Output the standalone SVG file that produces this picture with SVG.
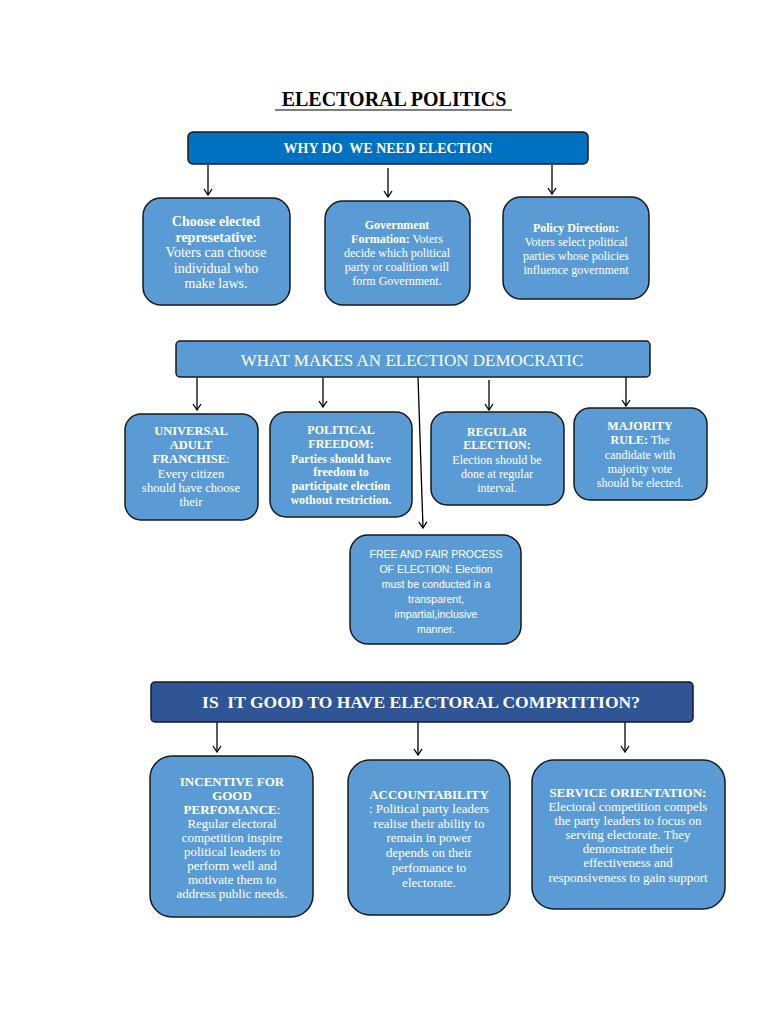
<svg xmlns="http://www.w3.org/2000/svg" width="768" height="1024" viewBox="0 0 768 1024">
<defs>
<marker id="arr" markerWidth="10" markerHeight="10" refX="9" refY="5" orient="auto" markerUnits="userSpaceOnUse" viewBox="0 0 10 10">
<polyline points="3,1 9,5 3,9" fill="none" stroke="#000" stroke-width="1.3"/>
</marker>
<style>
.box{fill:#5b9bd5;stroke:#1a1a1a;stroke-width:1.5}
.t{font-family:"Liberation Serif","Times New Roman",serif;fill:#fff;text-anchor:middle;white-space:pre}
.s{font-family:"Liberation Sans",Arial,sans-serif;fill:#fff;text-anchor:middle}
.b{font-weight:bold}
.c line{stroke:#000;stroke-width:1.3;marker-end:url(#arr)}
</style>
</defs>
<rect width="768" height="1024" fill="#fff"/>
<g id="title">
<text x="394" y="106" font-family="Liberation Serif,serif" font-weight="bold" font-size="20" text-anchor="middle" fill="#000">ELECTORAL POLITICS</text>
<line x1="275" y1="110" x2="512" y2="110" stroke="#000" stroke-width="1.2"/>
</g>
<g class="c" id="connectors">
<line x1="208" y1="165" x2="208" y2="195"/>
<line x1="388" y1="168" x2="388" y2="197"/>
<line x1="552" y1="165" x2="552" y2="194"/>
<line x1="197" y1="378" x2="197" y2="410"/>
<line x1="323" y1="378" x2="323" y2="407"/>
<line x1="489" y1="380" x2="489" y2="410"/>
<line x1="626" y1="377" x2="626" y2="406"/>
<line x1="418" y1="377" x2="423" y2="528"/>
<line x1="217" y1="722" x2="217" y2="752"/>
<line x1="418" y1="722" x2="418" y2="755"/>
<line x1="625" y1="722" x2="625" y2="752"/>
</g>
<g id="h1">
<rect x="188" y="132" width="400" height="32" rx="5" fill="#0070c0" stroke="#1a1a1a" stroke-width="1.5"/>
<text class="t b" x="388" y="153" font-size="14" xml:space="preserve">WHY DO  WE NEED ELECTION</text>
</g>
<g id="n1">
<rect class="box" x="143" y="198" width="147" height="107" rx="18"/>
<text class="t" font-size="14"><tspan class="b" x="216" y="226">Choose elected</tspan><tspan class="b" x="216" y="242">represetative<tspan font-weight="normal">:</tspan></tspan><tspan x="216" y="257">Voters can choose</tspan><tspan x="216" y="273">individual who</tspan><tspan x="216" y="288">make laws.</tspan></text>
</g>
<g id="n2">
<rect class="box" x="325" y="201" width="145" height="104" rx="18"/>
<text class="t" font-size="12"><tspan class="b" x="397" y="229">Government</tspan><tspan x="397" y="243"><tspan class="b">Formation:</tspan> Voters</tspan><tspan x="397" y="257">decide which political</tspan><tspan x="397" y="271">party or coalition will</tspan><tspan x="397" y="285">form Government.</tspan></text>
</g>
<g id="n3">
<rect class="box" x="503" y="197" width="146" height="102" rx="18"/>
<text class="t" font-size="12"><tspan class="b" x="576" y="232">Policy Direction:</tspan><tspan x="576" y="246">Voters select political</tspan><tspan x="576" y="260">parties whose policies</tspan><tspan x="576" y="274">influence government</tspan></text>
</g>
<g id="h2">
<rect x="176" y="341" width="474" height="36" rx="4" fill="#5b9bd5" stroke="#1a1a1a" stroke-width="1.5"/>
<text class="t" x="412" y="366" font-size="17">WHAT MAKES AN ELECTION DEMOCRATIC</text>
</g>
<g id="n4">
<rect class="box" x="125" y="414" width="133" height="106" rx="16"/>
<text class="t" font-size="12.5"><tspan class="b" x="191" y="435">UNIVERSAL</tspan><tspan class="b" x="191" y="449">ADULT</tspan><tspan class="b" x="191" y="463">FRANCHISE<tspan font-weight="normal">:</tspan></tspan><tspan x="191" y="478">Every citizen</tspan><tspan x="191" y="492">should have choose</tspan><tspan x="191" y="506">their</tspan></text>
</g>
<g id="n5">
<rect class="box" x="270" y="412" width="142" height="105" rx="16"/>
<text class="t b" font-size="12"><tspan x="341" y="434">POLITICAL</tspan><tspan x="341" y="448">FREEDOM:</tspan><tspan x="341" y="463">Parties should have</tspan><tspan x="341" y="476">freedom to</tspan><tspan x="341" y="490">participate election</tspan><tspan x="341" y="504">wothout restriction.</tspan></text>
</g>
<g id="n6">
<rect class="box" x="431" y="412" width="133" height="93" rx="16"/>
<text class="t" font-size="12"><tspan class="b" x="497" y="436">REGULAR</tspan><tspan class="b" x="497" y="449">ELECTION:</tspan><tspan x="497" y="464">Election should be</tspan><tspan x="497" y="478">done at regular</tspan><tspan x="497" y="492">interval.</tspan></text>
</g>
<g id="n7">
<rect class="box" x="574" y="408" width="133" height="92" rx="16"/>
<text class="t" font-size="12"><tspan class="b" x="640" y="430">MAJORITY</tspan><tspan x="640" y="444"><tspan class="b">RULE:</tspan> The</tspan><tspan x="640" y="459">candidate with</tspan><tspan x="640" y="473">majority vote</tspan><tspan x="640" y="487">should be elected.</tspan></text>
</g>
<g id="n8">
<rect class="box" x="350" y="535" width="171" height="109" rx="18"/>
<text class="s" font-size="10.5"><tspan x="436" y="558">FREE AND FAIR PROCESS</tspan><tspan x="436" y="573">OF ELECTION: Election</tspan><tspan x="436" y="588">must be conducted in a</tspan><tspan x="436" y="603">transparent,</tspan><tspan x="436" y="618">impartial,inclusive</tspan><tspan x="436" y="633">manner.</tspan></text>
</g>
<g id="h3">
<rect x="151" y="682" width="542" height="40" rx="4" fill="#2f5597" stroke="#1a1a1a" stroke-width="1.5"/>
<text class="t b" x="421" y="708" font-size="17.5" xml:space="preserve">IS  IT GOOD TO HAVE ELECTORAL COMPRTITION?</text>
</g>
<g id="n9">
<rect class="box" x="150" y="756" width="163" height="161" rx="22"/>
<text class="t" font-size="13"><tspan class="b" x="232" y="786">INCENTIVE FOR</tspan><tspan class="b" x="232" y="800">GOOD</tspan><tspan class="b" x="232" y="814">PERFOMANCE<tspan font-weight="normal">:</tspan></tspan><tspan x="232" y="828">Regular electoral</tspan><tspan x="232" y="842">competition inspire</tspan><tspan x="232" y="856">political leaders to</tspan><tspan x="232" y="870">perform well and</tspan><tspan x="232" y="884">motivate them to</tspan><tspan x="232" y="898">address public needs.</tspan></text>
</g>
<g id="n10">
<rect class="box" x="348" y="760" width="162" height="155" rx="22"/>
<text class="t" font-size="13"><tspan class="b" x="429" y="799">ACCOUNTABILITY</tspan><tspan x="429" y="813">: Political party leaders</tspan><tspan x="429" y="828">realise their ability to</tspan><tspan x="429" y="842">remain in power</tspan><tspan x="429" y="857">depends on their</tspan><tspan x="429" y="872">perfomance to</tspan><tspan x="429" y="887">electorate.</tspan></text>
</g>
<g id="n11">
<rect class="box" x="532" y="760" width="193" height="149" rx="22"/>
<text class="t" font-size="13"><tspan class="b" x="628" y="797">SERVICE ORIENTATION:</tspan><tspan x="628" y="811">Electoral competition compels</tspan><tspan x="628" y="825">the party leaders to focus on</tspan><tspan x="628" y="839">serving electorate. They</tspan><tspan x="628" y="853">demonstrate their</tspan><tspan x="628" y="867">effectiveness and</tspan><tspan x="628" y="882">responsiveness to gain support</tspan></text>
</g>
</svg>
